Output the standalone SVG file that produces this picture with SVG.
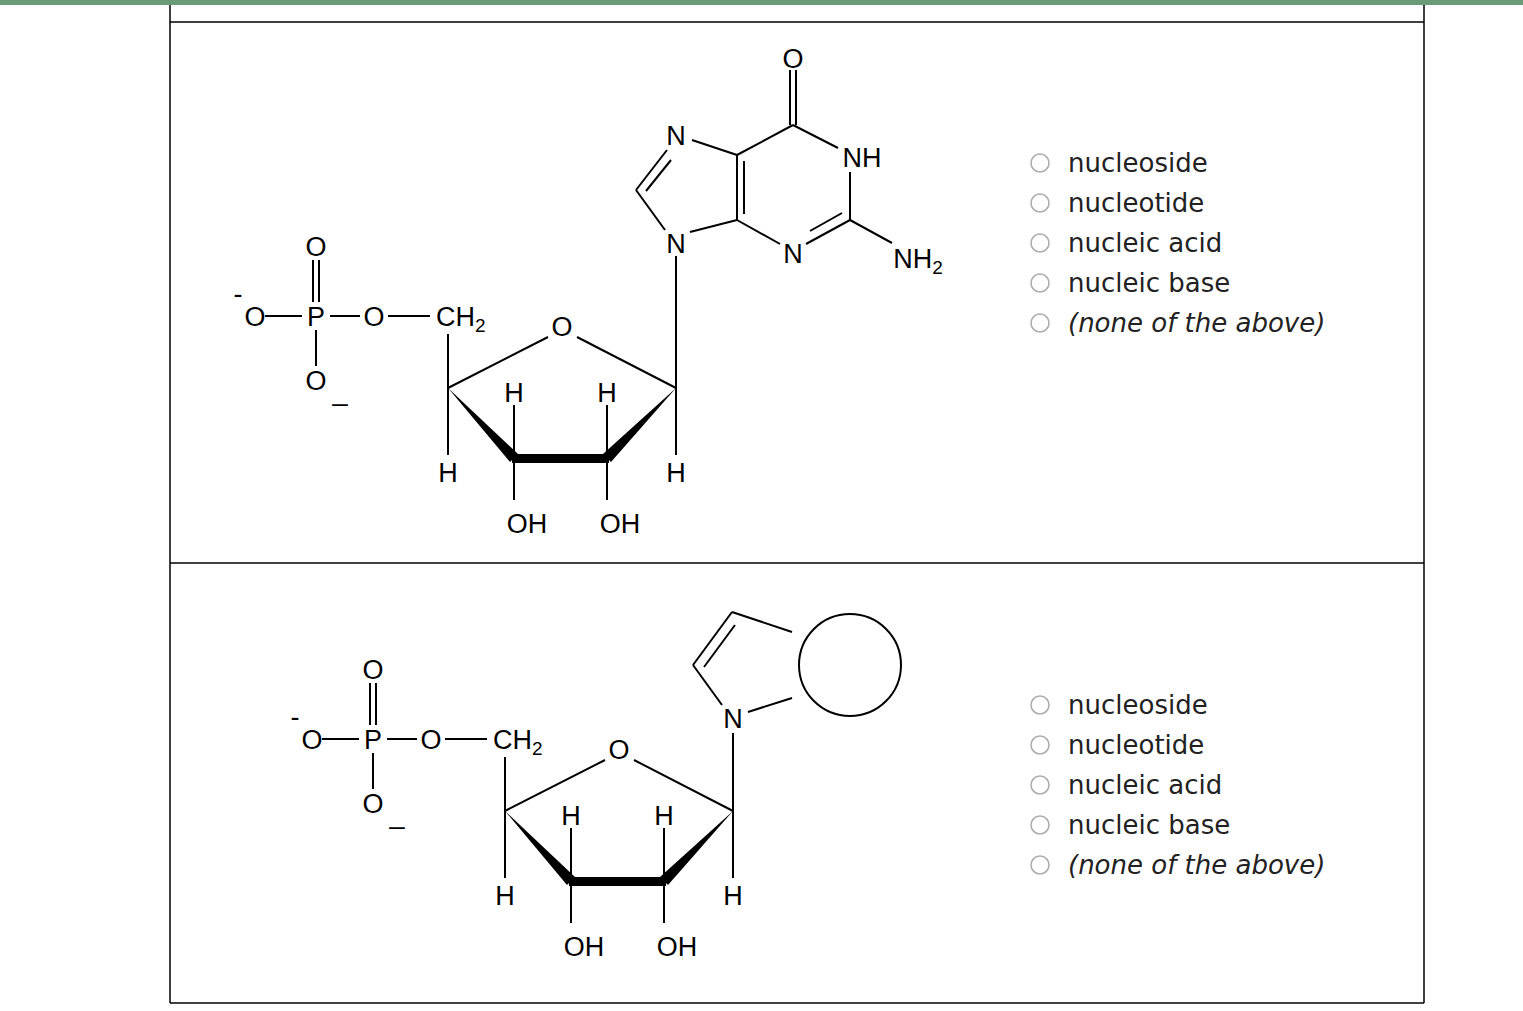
<svg xmlns="http://www.w3.org/2000/svg" width="1523" height="1011" viewBox="0 0 1523 1011">
<style>
.a{font-family:"Liberation Sans",Arial,sans-serif;font-size:27px;fill:#000;text-anchor:middle}
.s{font-size:19px}
.b line,.b path,.b polyline{stroke:#000;stroke-width:2;fill:none}
.o{font-family:"DejaVu Sans",Verdana,sans-serif;font-size:26px;fill:#222}
.r{fill:#fff;stroke:#aaa;stroke-width:1.5}
</style>
<defs>
<g id="sug">
<g class="b">
<line x1="265" y1="316" x2="302" y2="316"/><line x1="330" y1="316" x2="360" y2="316"/><line x1="388" y1="316" x2="430" y2="316"/>
<line x1="313" y1="260" x2="313" y2="302"/><line x1="319" y1="260" x2="319" y2="302"/>
<line x1="316" y1="330" x2="316" y2="366"/>
<line x1="448" y1="334" x2="448" y2="455"/>
<line x1="548" y1="337" x2="448" y2="388"/><line x1="577" y1="337" x2="676" y2="388"/>
<line x1="676" y1="388" x2="676" y2="455"/>
<line x1="514" y1="405" x2="514" y2="458"/><line x1="607" y1="405" x2="607" y2="458"/>
<line x1="514" y1="458" x2="514" y2="500"/><line x1="607" y1="458" x2="607" y2="500"/>
</g>
<polygon points="448,388 518,454 510,462"/>
<polygon points="676,388 611,462 603,454"/>
<rect x="512" y="454" width="97" height="9"/>
<text class="a" x="316" y="326">P</text>
<text class="a" x="255" y="326">O</text><text class="a" x="238" y="303">-</text>
<text class="a" x="316" y="256">O</text>
<text class="a" x="374" y="326">O</text>
<text class="a" x="316" y="390">O</text><text class="a" x="340" y="400">_</text>
<text class="a" x="460" y="326" style="text-anchor:start" transform="translate(-24 0)">CH<tspan class="s" dy="6">2</tspan></text>
<text class="a" x="562" y="336">O</text>
<text class="a" x="514" y="402">H</text><text class="a" x="607" y="402">H</text>
<text class="a" x="448" y="482">H</text><text class="a" x="676" y="482">H</text>
<text class="a" x="527" y="533">OH</text><text class="a" x="620" y="533">OH</text>
</g>
</defs>
<rect x="0" y="0" width="1523" height="5" fill="#6b9a79"/>
<g fill="none" stroke="#000" stroke-width="1.5">
<line x1="170" y1="5" x2="170" y2="1003"/><line x1="1424" y1="5" x2="1424" y2="1003"/>
<line x1="170" y1="22" x2="1424" y2="22"/><line x1="170" y1="563" x2="1424" y2="563"/><line x1="170" y1="1003" x2="1424" y2="1003"/>
</g>
<g id="guanosine-mp">
<use href="#sug"/>
<g class="b">
<line x1="676" y1="256" x2="676" y2="388"/>
<line x1="790" y1="70" x2="790" y2="125"/><line x1="796" y1="70" x2="796" y2="125"/>
<line x1="793" y1="125" x2="838" y2="148"/>
<line x1="850" y1="172" x2="850" y2="220"/>
<line x1="850" y1="220" x2="806" y2="244"/><line x1="842" y1="213" x2="810" y2="231"/>
<line x1="850" y1="220" x2="892" y2="243"/>
<line x1="780" y1="244" x2="737" y2="220"/>
<line x1="737" y1="220" x2="737" y2="155"/><line x1="744" y1="214" x2="744" y2="161"/>
<line x1="737" y1="155" x2="793" y2="125"/>
<line x1="737" y1="155" x2="692" y2="140"/>
<line x1="667" y1="150" x2="636" y2="190"/><line x1="671" y1="160" x2="646" y2="191"/>
<line x1="636" y1="190" x2="665" y2="230"/>
<line x1="690" y1="232" x2="737" y2="220"/>
</g>
<text class="a" x="793" y="68">O</text>
<text class="a" x="676" y="145">N</text>
<text class="a" x="862" y="167">NH</text>
<text class="a" x="676" y="253">N</text>
<text class="a" x="793" y="263">N</text>
<text class="a" x="918" y="268">NH<tspan class="s" dy="6">2</tspan></text>
</g>
<g id="indole-mp">
<use href="#sug" transform="translate(57 423)"/>
<g class="b">
<line x1="733" y1="733" x2="733" y2="811"/>
<polygon points="850,598 908,632 908,698 850,732 792,698 792,632" style="fill:none"/>
<circle cx="850" cy="665" r="51" style="fill:none;stroke:#000;stroke-width:2"/>
<line x1="748" y1="712" x2="792" y2="698"/>
<line x1="792" y1="632" x2="732" y2="612"/>
<line x1="732" y1="612" x2="693" y2="665"/><line x1="735" y1="625" x2="704" y2="667"/>
<line x1="693" y1="665" x2="722" y2="705"/>
</g>
<text class="a" x="733" y="728">N</text>
</g>
<g id="opts1">
<circle class="r" cx="1040" cy="163" r="9"/><circle class="r" cx="1040" cy="203" r="9"/><circle class="r" cx="1040" cy="243" r="9"/><circle class="r" cx="1040" cy="283" r="9"/><circle class="r" cx="1040" cy="323" r="9"/>
<text class="o" x="1068" y="172">nucleoside</text><text class="o" x="1068" y="212">nucleotide</text><text class="o" x="1068" y="252">nucleic acid</text><text class="o" x="1068" y="292">nucleic base</text><text class="o" x="1068" y="332" font-style="italic">(none of the above)</text>
</g>
<g id="opts2">
<circle class="r" cx="1040" cy="705" r="9"/><circle class="r" cx="1040" cy="745" r="9"/><circle class="r" cx="1040" cy="785" r="9"/><circle class="r" cx="1040" cy="825" r="9"/><circle class="r" cx="1040" cy="865" r="9"/>
<text class="o" x="1068" y="714">nucleoside</text><text class="o" x="1068" y="754">nucleotide</text><text class="o" x="1068" y="794">nucleic acid</text><text class="o" x="1068" y="834">nucleic base</text><text class="o" x="1068" y="874" font-style="italic">(none of the above)</text>
</g>
</svg>
